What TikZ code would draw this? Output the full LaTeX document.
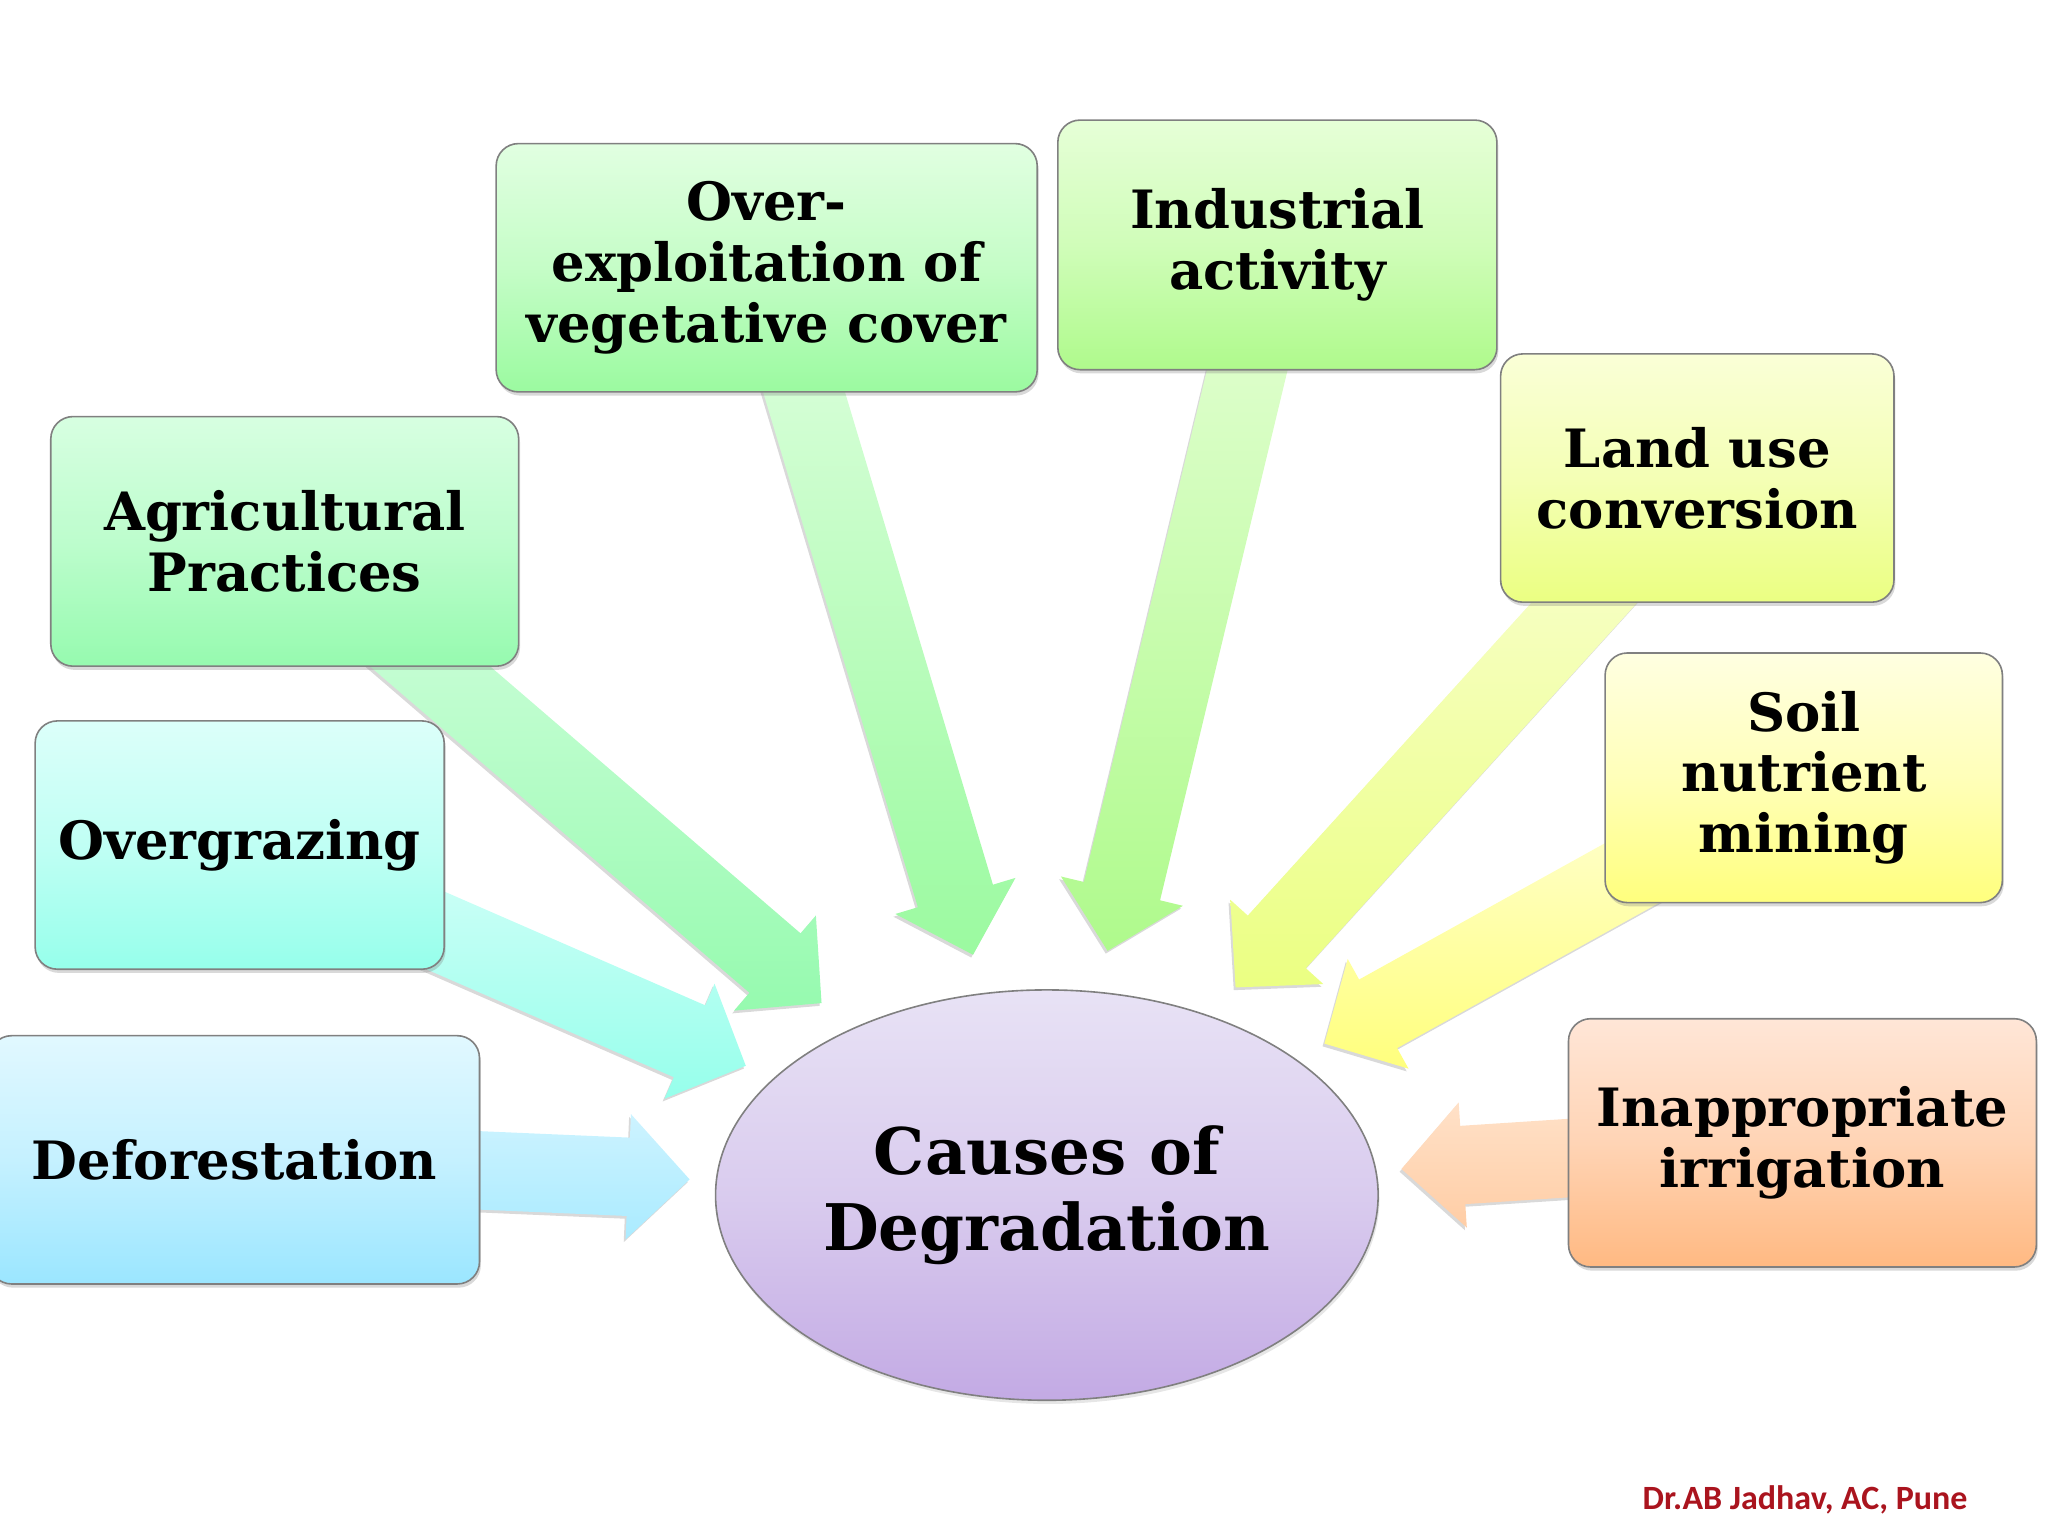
\documentclass[tikz,border=0pt]{standalone}
\usepackage{fontspec}
\setmainfont{DejaVu Serif}
\newfontfamily\signfont{Carlito}
\usetikzlibrary{shapes.geometric,shadows,calc,backgrounds}

\definecolor{deftop}{HTML}{E1F8FF}\definecolor{defbot}{HTML}{9BE6FF}
\definecolor{deftip}{HTML}{AAEBFF}\definecolor{defarr}{HTML}{CDF3FF}
\definecolor{grztop}{HTML}{DCFFFA}\definecolor{grzbot}{HTML}{96FFEB}
\definecolor{agrtop}{HTML}{D7FFE1}\definecolor{agrbot}{HTML}{96FAAF}
\definecolor{ovrtop}{HTML}{E1FFE1}\definecolor{ovrbot}{HTML}{9BFAA0}
\definecolor{indtop}{HTML}{E6FFD7}\definecolor{indbot}{HTML}{AFFA8C}
\definecolor{lndtop}{HTML}{FAFFD7}\definecolor{lndbot}{HTML}{EBFF82}
\definecolor{soltop}{HTML}{FFFFE1}\definecolor{solbot}{HTML}{FFFF7D}
\definecolor{irrtop}{HTML}{FFE6D7}\definecolor{irrbot}{HTML}{FFB982}
\definecolor{irrarr}{HTML}{FFE1C8}\definecolor{irrtip}{HTML}{FFCDA5}
\definecolor{elltop}{HTML}{E8E2F5}\definecolor{ellbot}{HTML}{C3AAE4}
\definecolor{signred}{HTML}{AA141E}

\tikzset{
  causebox/.style 2 args={draw=black!50, line width=0.35pt, rounded corners=0.17cm, align=center,
    inner sep=0pt, outer sep=0pt, font=\fontsize{11.5}{13.2}\selectfont\bfseries,
    top color=#1, bottom color=#2, middle color=#1!60!#2,
    drop shadow={opacity=0.3, shadow xshift=0.3pt, shadow yshift=-0.8pt}},
  bigarrow/.style={drop shadow={opacity=0.3, shadow xshift=-0.4pt, shadow yshift=-0.6pt}}
}

\begin{document}
\begin{tikzpicture}[x={(0.01cm,0cm)}, y={(0cm,-0.01cm)}]
  \useasboundingbox (0,0) rectangle (1568,1176);

  % Boxes
  \node[causebox={deftop}{defbot}, minimum width=3.75cm, minimum height=1.90cm] (deforest) at (179.5,888) {Deforestation};
  \node[causebox={grztop}{grzbot}, minimum width=3.13cm, minimum height=1.90cm] (overgraze) at (183.5,647) {Overgrazing};
  \node[causebox={agrtop}{agrbot}, minimum width=3.58cm, minimum height=1.91cm] (agri) at (218,414.5) {Agricultural\\Practices};
  \node[causebox={ovrtop}{ovrbot}, minimum width=4.14cm, minimum height=1.90cm] (overexp) at (587,205) {Over-\\exploitation of\\vegetative cover};
  \node[causebox={indtop}{indbot}, minimum width=3.36cm, minimum height=1.91cm] (industry) at (978,187.5) {Industrial\\activity};
  \node[causebox={lndtop}{lndbot}, minimum width=3.01cm, minimum height=1.90cm] (landuse) at (1299.5,366) {Land use\\conversion};
  \node[causebox={soltop}{solbot}, minimum width=3.04cm, minimum height=1.91cm] (soil) at (1381,595.5) {Soil\\nutrient\\mining};
  \node[causebox={irrtop}{irrbot}, minimum width=3.58cm, minimum height=1.90cm] (irrig) at (1380,875) {Inappropriate\\irrigation};

  % Centre
  \node[ellipse, draw=black!50, line width=0.35pt, inner sep=0pt, outer sep=0pt, minimum width=5.07cm, minimum height=3.14cm,
    top color=elltop, bottom color=ellbot, middle color=elltop!60!ellbot, align=center, font=\fontsize{14}{16.5}\selectfont\bfseries,
    drop shadow={opacity=0.2, shadow xshift=0.3pt, shadow yshift=-0.8pt}] (causes) at (801.5,915) {Causes of\\Degradation};

  % Arrow tips
  \coordinate (tipdef) at (528,903);
  \coordinate (tipgrz) at (571,816);
  \coordinate (tipagr) at (629,768);
  \coordinate (tipovr) at (745,731);
  \coordinate (tipind) at (848,728);
  \coordinate (tiplnd) at (946,756);
  \coordinate (tipsol) at (1014,799);
  \coordinate (tipirr) at (1073,895);

  % Arrows
  \begin{pgfonlayer}{background}
    \foreach \from/\tip/\coltop/\colbot in {
      deforest/tipdef/defarr/deftip, overgraze/tipgrz/grztop/grzbot,
      agri/tipagr/agrtop/agrbot, overexp/tipovr/ovrtop/ovrbot,
      industry/tipind/indtop/indbot, landuse/tiplnd/lndtop/lndbot,
      soil/tipsol/soltop/solbot, irrig/tipirr/irrarr/irrtip}
    {
      \coordinate (neck) at ($(\tip)!0.47cm!(\from.center)$);
      \path[bigarrow, top color=\coltop, bottom color=\colbot]
        ($(\from.center)!0.30cm!90:(\tip)$) -- ($(neck)!0.30cm!90:(\tip)$) -- ($(neck)!0.48cm!90:(\tip)$)
        -- (\tip)
        -- ($(neck)!0.48cm!-90:(\tip)$) -- ($(neck)!0.30cm!-90:(\tip)$) -- ($(\from.center)!0.30cm!-90:(\tip)$) -- cycle;
    }
  \end{pgfonlayer}

  % Signature
  \node[text=signred, inner sep=0pt, font=\signfont\fontsize{7.4}{9}\selectfont\bfseries] (sign) at (1382,1148) {Dr.AB Jadhav, AC, Pune};
\end{tikzpicture}
\end{document}
